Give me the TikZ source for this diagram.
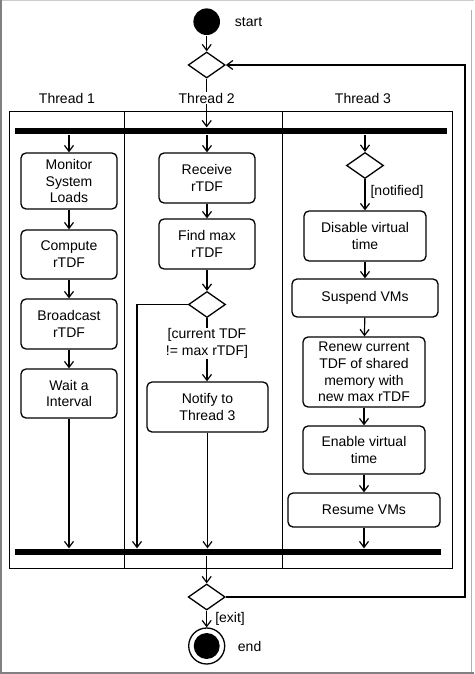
\documentclass[tikz,border=0pt]{standalone}
\usepackage{fontspec}
\setmainfont{Liberation Sans}
\usetikzlibrary{arrows.meta}
\usetikzlibrary{shapes.geometric}

\tikzset{
  act/.style={draw, rounded corners=5pt, line width=1.3pt, align=center,
    inner sep=1pt, minimum width=96pt, minimum height=50pt},
  decide/.style={draw, diamond, line width=1.3pt, inner sep=0pt,
    minimum width=37pt, minimum height=26pt},
  bar/.style={fill=black, inner sep=0pt, minimum height=6pt},
  flow/.style={-{Straight Barb[length=6pt,width=9pt]}, line width=1.2pt},
  guard/.style={fill=white, inner sep=1pt, align=center}
}

\begin{document}
\begin{tikzpicture}[x=1pt, y=-1pt, line width=1.2pt,
    every node/.style={font=\fontsize{14}{16.8}\selectfont}]
  \useasboundingbox (0,0) rectangle (474,674);
  \draw[gray!40, line width=1pt] (0,0.5) -- (474,0.5);
  \draw[gray, line width=2pt] (1,0) -- (1,674);
  \draw[gray, line width=2pt] (0,673) -- (474,673);
  \draw[gray!60, line width=1pt] (471.5,10) -- (471.5,672);

  % lanes
  \draw[line width=1pt] (9,112) rectangle (452,568);
  \draw[line width=1pt] (124,112) -- (124,568);
  \draw[line width=1pt] (282,112) -- (282,568);

  \node[circle, fill=black, minimum size=26.6pt, inner sep=0pt] (start) at (206.7,21.7) {};
  \node[right] (startlbl) at (231,22) {start};
  \node[decide] (d1) at (206.7,65) {};
  \node[bar, minimum width=432pt] (fork) at (231,131) {};
  \node[bar, minimum width=426pt] (join) at (228,552) {};

  \node[act, minimum height=56pt] (mon) at (69,181) {Monitor\\System\\Loads};
  \node[act, minimum height=49pt] (comp) at (69,254.5) {Compute\\rTDF};
  \node[act] (bcast) at (69,324) {Broadcast\\rTDF};
  \node[act, minimum height=49pt] (wait) at (69,393.5) {Wait a\\Interval};

  \node[act] (recv) at (207,178) {Receive\\rTDF};
  \node[act] (findmax) at (207,244) {Find max\\rTDF};
  \node[decide] (d2) at (207,304.5) {};
  \node[act, minimum width=121pt] (notify) at (207.5,407) {Notify to\\Thread 3};

  \node[decide] (d3) at (365,165.5) {};
  \node[act, minimum width=122pt] (disable) at (365,236) {Disable virtual\\time};
  \node[act, minimum width=146pt, minimum height=38pt] (suspend) at (365,298) {Suspend VMs};
  \node[act, minimum width=122pt, minimum height=70pt] (renew) at (364,372)
    {Renew current\\TDF of shared\\memory with\\new max rTDF};
  \node[act, minimum width=122pt, minimum height=48pt] (enable) at (364,450) {Enable virtual\\time};
  \node[act, minimum width=152pt, minimum height=34pt] (resume) at (364,510) {Resume VMs};

  \node[decide] (d4) at (206.7,597) {};
  \node[circle, draw, line width=1.3pt, minimum size=36pt, inner sep=0pt] (stop) at (206.7,646) {};
  \node[circle, fill=black, minimum size=26pt, inner sep=0pt] at (stop) {};
  \node[right] (stoplbl) at (234,646) {end};
  \coordinate (loopx) at (465,330);
  \coordinate (skip) at (137,304.5);

  \path[flow]
    (start) edge (d1.north)
    (d1.south) edge (d1.south |- fork.north)
    (fork.south -| mon.north) edge (mon.north)
    (mon) edge (comp)
    (comp) edge (bcast)
    (bcast) edge (wait)
    (wait.south) edge (wait.south |- join.north)
    (fork.south -| recv.north) edge (recv.north)
    (recv) edge (findmax)
    (findmax) edge (d2.north)
    (notify.south) edge (notify.south |- join.north)
    (fork.south -| d3.north) edge (d3.north)
    (disable) edge (suspend)
    (suspend) edge (renew)
    (renew) edge (enable)
    (enable) edge (resume)
    (resume.south) edge (resume.south |- join.north)
    (join.south -| d4.north) edge (d4.north);
  \draw[flow] (d2.south) -- node[guard, pos=0.4] {[current TDF\\!= max rTDF]} (d2.south |- notify.north);
  \draw[flow] (d2.west) -- (skip) -- (skip |- join.north);
  \draw[flow] (d3.south) -- node[right, pos=0.42, inner sep=5pt] {[notified]} (d3.south |- disable.north);
  \draw[flow] (d4.south) -- node[right, inner sep=8pt] {[exit]} (stop.north);
  \draw[flow] (d4.east) -| (loopx) |- (d1.east);

  \node[guard] (lane1) at (67,98) {Thread 1};
  \node[guard] (lane2) at (206.7,98) {Thread 2};
  \node[guard] (lane3) at (363,98) {Thread 3};
\end{tikzpicture}
\end{document}
